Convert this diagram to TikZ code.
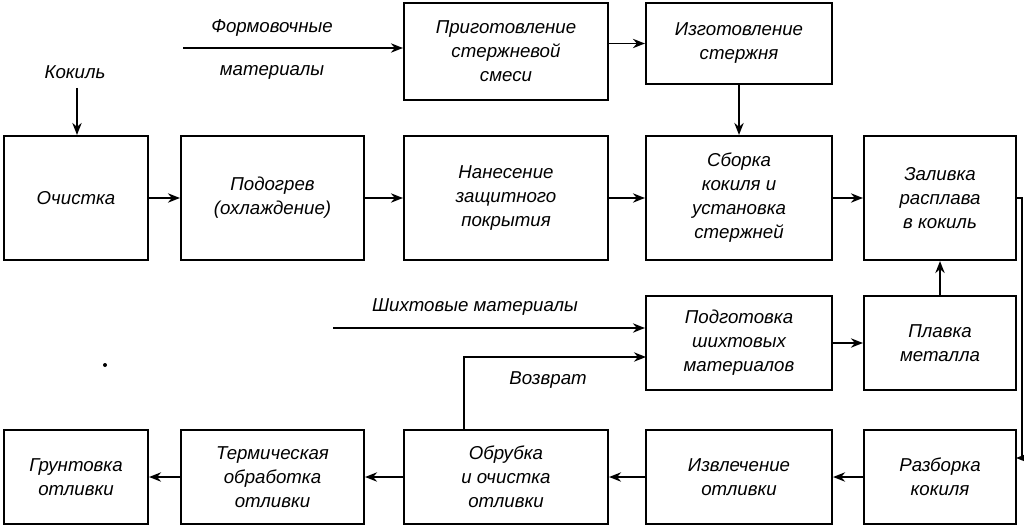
\documentclass[tikz,border=0pt]{standalone}
\usepackage{fontspec}
\setmainfont{Liberation Sans}
\usetikzlibrary{arrows.meta}
\begin{document}
\begin{tikzpicture}[x=0.75pt,y=-0.75pt,
  box/.style={draw,line width=1.6pt,align=center,inner sep=0pt,font=\itshape\fontsize{14}{18}\selectfont},
  lbl/.style={font=\itshape\fontsize{14}{18}\selectfont,align=center},
  ar/.style={line width=1.3pt,-{Stealth[length=9pt,width=7pt]}}]
\useasboundingbox (0,0) rectangle (1024,528);
\newcommand\bx[6]{\node[box,minimum width={0.75pt*(#4-#2)},minimum height={0.75pt*(#5-#3)}] (#1) at ({(#2+#4)/2},{(#3+#5)/2}) {#6};}
\bx{prig}{404}{3}{608}{100}{Приготовление\\стержневой\\смеси}
\bx{izg}{646}{3}{832}{84}{Изготовление\\стержня}
\bx{och}{4}{136}{148}{260}{Очистка}
\bx{pod}{181}{136}{364}{260}{Подогрев\\(охлаждение)}
\bx{nan}{404}{136}{608}{260}{Нанесение\\защитного\\покрытия}
\bx{sb}{646}{136}{832}{260}{Сборка\\кокиля и\\установка\\стержней}
\bx{zal}{864}{136}{1016}{260}{Заливка\\расплава\\в кокиль}
\bx{pdg}{646}{296}{832}{390}{Подготовка\\шихтовых\\материалов}
\bx{pl}{864}{296}{1016}{390}{Плавка\\металла}
\bx{gr}{4}{430}{148}{524}{Грунтовка\\отливки}
\bx{ter}{181}{430}{364}{524}{Термическая\\обработка\\отливки}
\bx{obr}{404}{430}{608}{524}{Обрубка\\и очистка\\отливки}
\bx{izv}{646}{430}{832}{524}{Извлечение\\отливки}
\bx{raz}{864}{430}{1016}{524}{Разборка\\кокиля}
\node[lbl] (kok) at (75,72) {Кокиль};
\node[lbl] (form1) at (272,28) {Формовочные};
\node[lbl] (form2) at (272,72) {материалы};
\node[lbl] (sh) at (475,307) {Шихтовые материалы};
\node[lbl] (voz) at (548,380) {Возврат};
\coordinate (k0) at (77,88);
\coordinate (f0) at (183,48);
\coordinate (s0) at (333,328);
\coordinate (r1) at (1022,198);
\coordinate (r2) at (1022,458);
\coordinate (r3) at (1016,458);
\coordinate (v0) at (464,430);
\coordinate (v1) at (464,357);
\coordinate (v2) at (646,357);
\draw[ar] (k0) -- (och.north -| k0);
\draw[ar] (f0) -- (f0 -| prig.west);
\draw[ar] (prig.east |- izg) -- (izg.west);
\draw[ar] (izg.south) -- (sb.north);
\draw[ar] (och) -- (pod);
\draw[ar] (pod) -- (nan);
\draw[ar] (nan) -- (sb);
\draw[ar] (sb) -- (zal);
\draw[ar] (s0) -- (s0 -| pdg.west);
\draw[ar] (pdg.east |- pl) -- (pl.west);
\draw[ar] (pl.north) -- (zal.south -| pl.north);
\draw[ar] (zal.east) -- (r1) -- (r2) -- (r3);
\draw[ar] (raz) -- (izv);
\draw[ar] (izv) -- (obr);
\draw[ar] (obr) -- (ter);
\draw[ar] (ter) -- (gr);
\draw[ar] (v0) -- (v1) -- (v2);
\fill (105,365) circle (2);
\end{tikzpicture}
\end{document}
